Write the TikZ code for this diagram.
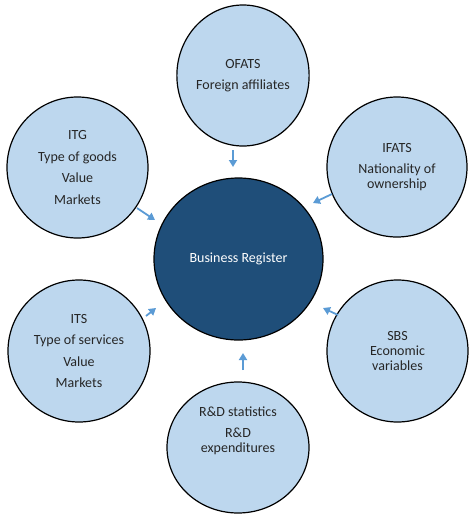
\documentclass[tikz,border=0pt]{standalone}
\usepackage{fontspec}
\setmainfont{Carlito}
\usetikzlibrary{shapes.geometric,arrows.meta}
\definecolor{lightfill}{HTML}{BDD7EE}
\definecolor{darkfill}{HTML}{1F4E79}
\definecolor{arrowblue}{HTML}{5B9BD5}
\definecolor{txt}{HTML}{262626}
\begin{document}
\begin{tikzpicture}[x=1pt,y=-1pt,
  bubble/.style={ellipse,draw=black,line width=1.2pt,fill=lightfill,inner sep=0pt,text=txt,align=center,font=\fontsize{14}{15}\selectfont},
  hub/.style={ellipse,draw=black,line width=1.2pt,fill=darkfill,inner sep=0pt,text=white,font=\fontsize{14}{15}\selectfont},
  plain/.style={text=txt,align=center,inner sep=0pt,font=\fontsize{14}{15}\selectfont},
  feed/.style={draw=arrowblue,line width=1.8pt,-{Triangle[length=7pt,width=8pt]}}]
\useasboundingbox (0,0) rectangle (474,520);
\node[bubble,minimum width=132pt,minimum height=141pt] (ofats) at (243,75.5) {OFATS\\[6.5pt]Foreign affiliates};
\node[bubble,minimum width=141pt,minimum height=141pt] (itg) at (77.5,167.5) {ITG\\[6.5pt]Type of goods\\[6.5pt]Value\\[6.5pt]Markets};
\node[bubble,minimum width=140pt,minimum height=140pt] (ifats) at (397,167) {IFATS\\[6.5pt]Nationality of\\ownership};
\node[hub,minimum width=169pt,minimum height=162pt] (br) at (238.5,259) {Business Register};
\node[bubble,minimum width=142pt,minimum height=142pt] (its) at (79,351) {ITS\\[6.5pt]Type of services\\[6.5pt]Value\\[6.5pt]Markets};
\node[bubble,minimum width=141pt,minimum height=142pt] (sbs) at (397.5,351) {SBS\\Economic\\variables};
\node[bubble,minimum width=142pt,minimum height=131pt] (rd) at (238,447.5) {};
\node[plain] (rdtext) at (238,431) {R\&D statistics\\[6.5pt]R\&D\\expenditures};
\coordinate (o1) at (233,150); \coordinate (o2) at (233,167);
\coordinate (g1) at (137,208); \coordinate (g2) at (155,220);
\coordinate (f1) at (332,194); \coordinate (f2) at (313,203);
\coordinate (s1) at (146,316); \coordinate (s2) at (156,308);
\coordinate (b1) at (338,315); \coordinate (b2) at (323,308);
\coordinate (r1) at (243,370); \coordinate (r2) at (243,353);
\draw[feed] (o1) -- (o2);
\draw[feed] (g1) -- (g2);
\draw[feed] (f1) -- (f2);
\draw[feed] (s1) -- (s2);
\draw[feed] (b1) -- (b2);
\draw[feed] (r1) -- (r2);
\end{tikzpicture}
\end{document}
